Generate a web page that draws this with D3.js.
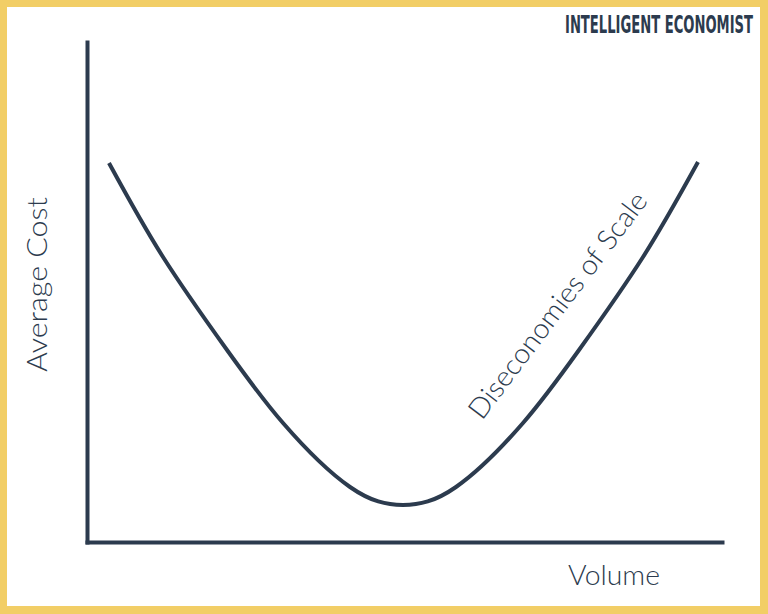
<!DOCTYPE html>
<html>
<head>
<meta charset="utf-8">
<script src="https://cdn.jsdelivr.net/npm/d3@7"></script>
<style>
  body { margin: 0; background: #fff; }
  svg { display: block; }
</style>
</head>
<body>
<div id="chart"></div>
<script>
// curve: volume vs average cost (0-100 on both axes)
var volume = [3.46, 11.97, 22.05, 30.87, 41.42, 49.76, 58.11, 68.66, 77.48, 87.56, 96.22];
var cost   = [75.8, 57.0, 38.4, 23.8, 11.0, 7.4, 11.0, 23.8, 38.4, 57.0, 76.0];

var xLabel = "Volume",
    yLabel = "Average Cost",
    curveLabel = "Diseconomies of Scale",
    brand = "INTELLIGENT ECONOMIST";

var W = 768, H = 614;
var navy = "#2c3b4e";

var svg = d3.select("#chart")
    .append("svg")
    .attr("width", W)
    .attr("height", H);

// yellow frame
svg.append("rect")
    .attr("width", W).attr("height", H)
    .attr("fill", "#f2ce66");
svg.append("rect")
    .attr("x", 7).attr("y", 7)
    .attr("width", 753).attr("height", 599)
    .attr("fill", "#fff");

var x = d3.scaleLinear().domain([0, 100]).range([87, 722]);
var y = d3.scaleLinear().domain([0, 100]).range([542, 42]);

// axes without ticks
svg.append("g")
    .attr("transform", "translate(" + x(0) + ",0)")
    .call(d3.axisLeft(y).ticks(0).tickSizeOuter(0))
    .call(g => g.select(".domain")
        .attr("stroke", navy)
        .attr("stroke-width", 4)
        .attr("stroke-linecap", "square"));

svg.append("g")
    .attr("transform", "translate(0," + y(0) + ")")
    .call(d3.axisBottom(x).ticks(0).tickSizeOuter(0))
    .call(g => g.select(".domain")
        .attr("stroke", navy)
        .attr("stroke-width", 4)
        .attr("stroke-linecap", "square"));

// the U shaped cost curve
var pts = volume.map((v, i) => [v, cost[i]]);
var line = d3.line()
    .x(d => x(d[0]))
    .y(d => y(d[1]))
    .curve(d3.curveNatural);

svg.append("path")
    .datum(pts)
    .attr("d", line)
    .attr("fill", "none")
    .attr("stroke", navy)
    .attr("stroke-width", 4)
    .attr("stroke-linecap", "butt");

// labels
var labelFont = "Lato, 'Open Sans', sans-serif";

function label(txt, transform, len) {
    return svg.append("text")
        .attr("transform", transform)
        .attr("font-family", labelFont)
        .attr("font-weight", 300)
        .attr("font-size", 28)
        .attr("textLength", len)
        .attr("lengthAdjust", "spacingAndGlyphs")
        .attr("fill", navy)
        .text(txt);
}

label(yLabel, "translate(47,372) rotate(-90)", 175);
label(xLabel, "translate(568,585)", 92);
label(curveLabel, "translate(482,421) rotate(-52.8)", 276);

// brand mark, squeezed to a condensed look
var b = svg.append("text")
    .attr("font-family", "'Liberation Sans Narrow', 'DejaVu Sans Condensed', sans-serif")
    .attr("font-weight", 700)
    .attr("font-size", 24)
    .attr("fill", navy)
    .text(brand);
var bw = b.node().getComputedTextLength();
b.attr("transform", "translate(565,33) scale(" + (188 / bw) + ",1)");
</script>
</body>
</html>
